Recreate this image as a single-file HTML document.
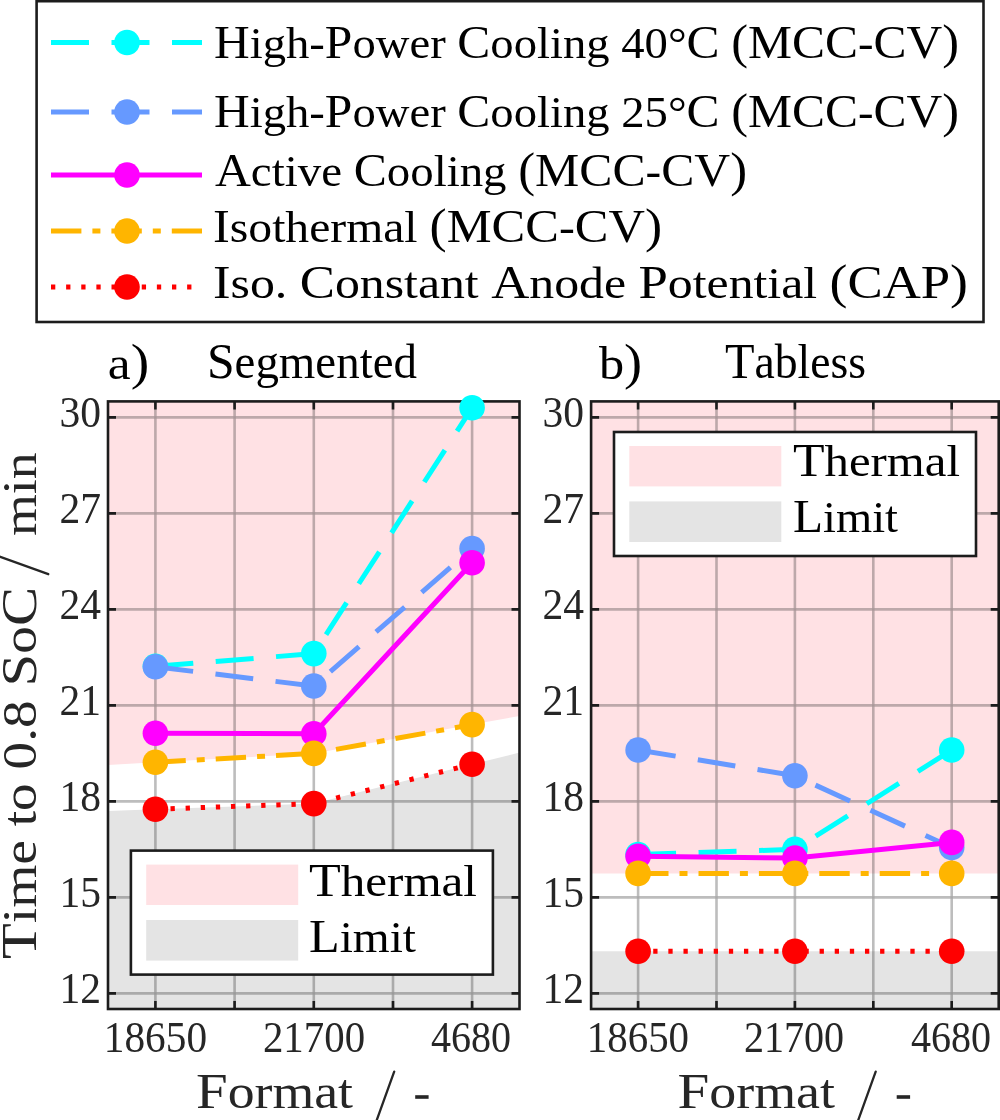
<!DOCTYPE html><html><head><meta charset="utf-8"><style>html,body{margin:0;padding:0;background:#fff;overflow:hidden;}svg{display:block;will-change:transform;}text{font-family:'Liberation Serif', serif;}</style></head><body>
<svg width="1000" height="1120" viewBox="0 0 1000 1120">
<defs><clipPath id="clipa"><rect x="108.0" y="401.4" width="411.5" height="607.6"/></clipPath></defs>
<rect x="108.0" y="401.4" width="411.5" height="607.6" fill="#fff"/>
<polygon clip-path="url(#clipa)" fill="#FFE1E4" points="108.0,401.4 519.5,401.4 519.5,715.98 472.1,724.6 313.8,753.4 155.4,762.3 108.0,764.96"/>
<polygon clip-path="url(#clipa)" fill="#E4E4E4" points="108.0,1009.0 519.5,1009.0 519.5,752.53 472.1,764.3 313.8,803.6 155.4,809.2 108.0,810.88"/>
<path d="M155.4 401.4V1009.0M234.6 401.4V1009.0M313.8 401.4V1009.0M393.0 401.4V1009.0M472.1 401.4V1009.0M108.0 417.4H519.5M108.0 513.4H519.5M108.0 609.4H519.5M108.0 705.4H519.5M108.0 801.4H519.5M108.0 897.4H519.5M108.0 993.4H519.5" stroke="rgba(38,38,38,0.30)" stroke-width="2.6" fill="none"/>
<rect x="154.1" y="416.09999999999997" width="2.6" height="2.6" fill="rgba(38,38,38,0.12)"/><rect x="154.1" y="512.1" width="2.6" height="2.6" fill="rgba(38,38,38,0.12)"/><rect x="154.1" y="608.1" width="2.6" height="2.6" fill="rgba(38,38,38,0.12)"/><rect x="154.1" y="704.1" width="2.6" height="2.6" fill="rgba(38,38,38,0.12)"/><rect x="154.1" y="800.1" width="2.6" height="2.6" fill="rgba(38,38,38,0.12)"/><rect x="154.1" y="896.1" width="2.6" height="2.6" fill="rgba(38,38,38,0.12)"/><rect x="154.1" y="992.1" width="2.6" height="2.6" fill="rgba(38,38,38,0.12)"/><rect x="233.29999999999998" y="416.09999999999997" width="2.6" height="2.6" fill="rgba(38,38,38,0.12)"/><rect x="233.29999999999998" y="512.1" width="2.6" height="2.6" fill="rgba(38,38,38,0.12)"/><rect x="233.29999999999998" y="608.1" width="2.6" height="2.6" fill="rgba(38,38,38,0.12)"/><rect x="233.29999999999998" y="704.1" width="2.6" height="2.6" fill="rgba(38,38,38,0.12)"/><rect x="233.29999999999998" y="800.1" width="2.6" height="2.6" fill="rgba(38,38,38,0.12)"/><rect x="233.29999999999998" y="896.1" width="2.6" height="2.6" fill="rgba(38,38,38,0.12)"/><rect x="233.29999999999998" y="992.1" width="2.6" height="2.6" fill="rgba(38,38,38,0.12)"/><rect x="312.5" y="416.09999999999997" width="2.6" height="2.6" fill="rgba(38,38,38,0.12)"/><rect x="312.5" y="512.1" width="2.6" height="2.6" fill="rgba(38,38,38,0.12)"/><rect x="312.5" y="608.1" width="2.6" height="2.6" fill="rgba(38,38,38,0.12)"/><rect x="312.5" y="704.1" width="2.6" height="2.6" fill="rgba(38,38,38,0.12)"/><rect x="312.5" y="800.1" width="2.6" height="2.6" fill="rgba(38,38,38,0.12)"/><rect x="312.5" y="896.1" width="2.6" height="2.6" fill="rgba(38,38,38,0.12)"/><rect x="312.5" y="992.1" width="2.6" height="2.6" fill="rgba(38,38,38,0.12)"/><rect x="391.7" y="416.09999999999997" width="2.6" height="2.6" fill="rgba(38,38,38,0.12)"/><rect x="391.7" y="512.1" width="2.6" height="2.6" fill="rgba(38,38,38,0.12)"/><rect x="391.7" y="608.1" width="2.6" height="2.6" fill="rgba(38,38,38,0.12)"/><rect x="391.7" y="704.1" width="2.6" height="2.6" fill="rgba(38,38,38,0.12)"/><rect x="391.7" y="800.1" width="2.6" height="2.6" fill="rgba(38,38,38,0.12)"/><rect x="391.7" y="896.1" width="2.6" height="2.6" fill="rgba(38,38,38,0.12)"/><rect x="391.7" y="992.1" width="2.6" height="2.6" fill="rgba(38,38,38,0.12)"/><rect x="470.8" y="416.09999999999997" width="2.6" height="2.6" fill="rgba(38,38,38,0.12)"/><rect x="470.8" y="512.1" width="2.6" height="2.6" fill="rgba(38,38,38,0.12)"/><rect x="470.8" y="608.1" width="2.6" height="2.6" fill="rgba(38,38,38,0.12)"/><rect x="470.8" y="704.1" width="2.6" height="2.6" fill="rgba(38,38,38,0.12)"/><rect x="470.8" y="800.1" width="2.6" height="2.6" fill="rgba(38,38,38,0.12)"/><rect x="470.8" y="896.1" width="2.6" height="2.6" fill="rgba(38,38,38,0.12)"/><rect x="470.8" y="992.1" width="2.6" height="2.6" fill="rgba(38,38,38,0.12)"/>
<path d="M155.4 401.4v8M155.4 1009.0v-8M234.6 401.4v8M234.6 1009.0v-8M313.8 401.4v8M313.8 1009.0v-8M393.0 401.4v8M393.0 1009.0v-8M472.1 401.4v8M472.1 1009.0v-8M108.0 417.4h8M519.5 417.4h-8M108.0 513.4h8M519.5 513.4h-8M108.0 609.4h8M519.5 609.4h-8M108.0 705.4h8M519.5 705.4h-8M108.0 801.4h8M519.5 801.4h-8M108.0 897.4h8M519.5 897.4h-8M108.0 993.4h8M519.5 993.4h-8" stroke="#1c1c1c" stroke-width="2.6" fill="none"/>
<rect x="108.0" y="401.4" width="411.5" height="607.6" fill="none" stroke="#1c1c1c" stroke-width="2.6"/>
<polyline points="155.4,666.3 313.8,653.6 472.1,407.8" fill="none" stroke="#00FFFF" stroke-width="5" stroke-dasharray="38 22.5"/>
<circle cx="155.4" cy="666.3" r="12.8" fill="#00FFFF"/>
<circle cx="313.8" cy="653.6" r="12.8" fill="#00FFFF"/>
<circle cx="472.1" cy="407.8" r="12.8" fill="#00FFFF"/>
<polyline points="155.4,666.8 313.8,686.0 472.1,548.5" fill="none" stroke="#6699FF" stroke-width="5" stroke-dasharray="38 22.5"/>
<circle cx="155.4" cy="666.8" r="12.8" fill="#6699FF"/>
<circle cx="313.8" cy="686.0" r="12.8" fill="#6699FF"/>
<circle cx="472.1" cy="548.5" r="12.8" fill="#6699FF"/>
<polyline points="155.4,733.2 313.8,733.8 472.1,562.8" fill="none" stroke="#FF00FF" stroke-width="5"/>
<circle cx="155.4" cy="733.2" r="12.8" fill="#FF00FF"/>
<circle cx="313.8" cy="733.8" r="12.8" fill="#FF00FF"/>
<circle cx="472.1" cy="562.8" r="12.8" fill="#FF00FF"/>
<polyline points="155.4,762.3 313.8,753.4 472.1,724.6" fill="none" stroke="#FFB500" stroke-width="5" stroke-dasharray="30.4 11 8 11"/>
<circle cx="155.4" cy="762.3" r="12.8" fill="#FFB500"/>
<circle cx="313.8" cy="753.4" r="12.8" fill="#FFB500"/>
<circle cx="472.1" cy="724.6" r="12.8" fill="#FFB500"/>
<polyline points="155.4,809.2 313.8,803.6 472.1,764.3" fill="none" stroke="#FF0000" stroke-width="5" stroke-dasharray="4.3 10.825"/>
<circle cx="155.4" cy="809.2" r="12.8" fill="#FF0000"/>
<circle cx="313.8" cy="803.6" r="12.8" fill="#FF0000"/>
<circle cx="472.1" cy="764.3" r="12.8" fill="#FF0000"/>
<defs><clipPath id="clipb"><rect x="591.1" y="401.4" width="407.6" height="607.6"/></clipPath></defs>
<rect x="591.1" y="401.4" width="407.6" height="607.6" fill="#fff"/>
<polygon clip-path="url(#clipb)" fill="#FFE1E4" points="591.1,401.4 998.7,401.4 998.7,873.40 951.7,873.4 794.9,873.4 638.1,873.4 591.1,873.40"/>
<polygon clip-path="url(#clipb)" fill="#E4E4E4" points="591.1,1009.0 998.7,1009.0 998.7,951.20 951.7,951.2 794.9,951.2 638.1,951.2 591.1,951.20"/>
<path d="M638.1 401.4V1009.0M716.5 401.4V1009.0M794.9 401.4V1009.0M873.3 401.4V1009.0M951.7 401.4V1009.0M591.1 417.4H998.7M591.1 513.4H998.7M591.1 609.4H998.7M591.1 705.4H998.7M591.1 801.4H998.7M591.1 897.4H998.7M591.1 993.4H998.7" stroke="rgba(38,38,38,0.30)" stroke-width="2.6" fill="none"/>
<rect x="636.8000000000001" y="416.09999999999997" width="2.6" height="2.6" fill="rgba(38,38,38,0.12)"/><rect x="636.8000000000001" y="512.1" width="2.6" height="2.6" fill="rgba(38,38,38,0.12)"/><rect x="636.8000000000001" y="608.1" width="2.6" height="2.6" fill="rgba(38,38,38,0.12)"/><rect x="636.8000000000001" y="704.1" width="2.6" height="2.6" fill="rgba(38,38,38,0.12)"/><rect x="636.8000000000001" y="800.1" width="2.6" height="2.6" fill="rgba(38,38,38,0.12)"/><rect x="636.8000000000001" y="896.1" width="2.6" height="2.6" fill="rgba(38,38,38,0.12)"/><rect x="636.8000000000001" y="992.1" width="2.6" height="2.6" fill="rgba(38,38,38,0.12)"/><rect x="715.2" y="416.09999999999997" width="2.6" height="2.6" fill="rgba(38,38,38,0.12)"/><rect x="715.2" y="512.1" width="2.6" height="2.6" fill="rgba(38,38,38,0.12)"/><rect x="715.2" y="608.1" width="2.6" height="2.6" fill="rgba(38,38,38,0.12)"/><rect x="715.2" y="704.1" width="2.6" height="2.6" fill="rgba(38,38,38,0.12)"/><rect x="715.2" y="800.1" width="2.6" height="2.6" fill="rgba(38,38,38,0.12)"/><rect x="715.2" y="896.1" width="2.6" height="2.6" fill="rgba(38,38,38,0.12)"/><rect x="715.2" y="992.1" width="2.6" height="2.6" fill="rgba(38,38,38,0.12)"/><rect x="793.6" y="416.09999999999997" width="2.6" height="2.6" fill="rgba(38,38,38,0.12)"/><rect x="793.6" y="512.1" width="2.6" height="2.6" fill="rgba(38,38,38,0.12)"/><rect x="793.6" y="608.1" width="2.6" height="2.6" fill="rgba(38,38,38,0.12)"/><rect x="793.6" y="704.1" width="2.6" height="2.6" fill="rgba(38,38,38,0.12)"/><rect x="793.6" y="800.1" width="2.6" height="2.6" fill="rgba(38,38,38,0.12)"/><rect x="793.6" y="896.1" width="2.6" height="2.6" fill="rgba(38,38,38,0.12)"/><rect x="793.6" y="992.1" width="2.6" height="2.6" fill="rgba(38,38,38,0.12)"/><rect x="872.0" y="416.09999999999997" width="2.6" height="2.6" fill="rgba(38,38,38,0.12)"/><rect x="872.0" y="512.1" width="2.6" height="2.6" fill="rgba(38,38,38,0.12)"/><rect x="872.0" y="608.1" width="2.6" height="2.6" fill="rgba(38,38,38,0.12)"/><rect x="872.0" y="704.1" width="2.6" height="2.6" fill="rgba(38,38,38,0.12)"/><rect x="872.0" y="800.1" width="2.6" height="2.6" fill="rgba(38,38,38,0.12)"/><rect x="872.0" y="896.1" width="2.6" height="2.6" fill="rgba(38,38,38,0.12)"/><rect x="872.0" y="992.1" width="2.6" height="2.6" fill="rgba(38,38,38,0.12)"/><rect x="950.4000000000001" y="416.09999999999997" width="2.6" height="2.6" fill="rgba(38,38,38,0.12)"/><rect x="950.4000000000001" y="512.1" width="2.6" height="2.6" fill="rgba(38,38,38,0.12)"/><rect x="950.4000000000001" y="608.1" width="2.6" height="2.6" fill="rgba(38,38,38,0.12)"/><rect x="950.4000000000001" y="704.1" width="2.6" height="2.6" fill="rgba(38,38,38,0.12)"/><rect x="950.4000000000001" y="800.1" width="2.6" height="2.6" fill="rgba(38,38,38,0.12)"/><rect x="950.4000000000001" y="896.1" width="2.6" height="2.6" fill="rgba(38,38,38,0.12)"/><rect x="950.4000000000001" y="992.1" width="2.6" height="2.6" fill="rgba(38,38,38,0.12)"/>
<path d="M638.1 401.4v8M638.1 1009.0v-8M716.5 401.4v8M716.5 1009.0v-8M794.9 401.4v8M794.9 1009.0v-8M873.3 401.4v8M873.3 1009.0v-8M951.7 401.4v8M951.7 1009.0v-8M591.1 417.4h8M998.7 417.4h-8M591.1 513.4h8M998.7 513.4h-8M591.1 609.4h8M998.7 609.4h-8M591.1 705.4h8M998.7 705.4h-8M591.1 801.4h8M998.7 801.4h-8M591.1 897.4h8M998.7 897.4h-8M591.1 993.4h8M998.7 993.4h-8" stroke="#1c1c1c" stroke-width="2.6" fill="none"/>
<rect x="591.1" y="401.4" width="407.6" height="607.6" fill="none" stroke="#1c1c1c" stroke-width="2.6"/>
<polyline points="638.1,854.5 794.9,849.3 951.7,750.0" fill="none" stroke="#00FFFF" stroke-width="5" stroke-dasharray="38 22.5"/>
<circle cx="638.1" cy="854.5" r="12.8" fill="#00FFFF"/>
<circle cx="794.9" cy="849.3" r="12.8" fill="#00FFFF"/>
<circle cx="951.7" cy="750.0" r="12.8" fill="#00FFFF"/>
<polyline points="638.1,750.0 794.9,775.7 951.7,847.5" fill="none" stroke="#6699FF" stroke-width="5" stroke-dasharray="38 22.5"/>
<circle cx="638.1" cy="750.0" r="12.8" fill="#6699FF"/>
<circle cx="794.9" cy="775.7" r="12.8" fill="#6699FF"/>
<circle cx="951.7" cy="847.5" r="12.8" fill="#6699FF"/>
<polyline points="638.1,856.3 794.9,858.0 951.7,842.4" fill="none" stroke="#FF00FF" stroke-width="5"/>
<circle cx="638.1" cy="856.3" r="12.8" fill="#FF00FF"/>
<circle cx="794.9" cy="858.0" r="12.8" fill="#FF00FF"/>
<circle cx="951.7" cy="842.4" r="12.8" fill="#FF00FF"/>
<polyline points="638.1,873.4 794.9,873.4 951.7,873.4" fill="none" stroke="#FFB500" stroke-width="5" stroke-dasharray="30.4 11 8 11"/>
<circle cx="638.1" cy="873.4" r="12.8" fill="#FFB500"/>
<circle cx="794.9" cy="873.4" r="12.8" fill="#FFB500"/>
<circle cx="951.7" cy="873.4" r="12.8" fill="#FFB500"/>
<polyline points="638.1,951.2 794.9,951.2 951.7,951.2" fill="none" stroke="#FF0000" stroke-width="5" stroke-dasharray="4.3 10.825"/>
<circle cx="638.1" cy="951.2" r="12.8" fill="#FF0000"/>
<circle cx="794.9" cy="951.2" r="12.8" fill="#FF0000"/>
<circle cx="951.7" cy="951.2" r="12.8" fill="#FF0000"/>
<rect x="130.9" y="850.6" width="362" height="124" fill="#fff" stroke="#1c1c1c" stroke-width="2.6"/>
<rect x="146.20000000000002" y="864.6" width="152" height="40.4" fill="#FFE1E4"/>
<rect x="146.20000000000002" y="920.0" width="152" height="40.6" fill="#E4E4E4"/>
<rect x="614" y="432" width="362" height="124" fill="#fff" stroke="#1c1c1c" stroke-width="2.6"/>
<rect x="629.3" y="446" width="152" height="40.4" fill="#FFE1E4"/>
<rect x="629.3" y="501.4" width="152" height="40.6" fill="#E4E4E4"/>
<rect x="36.6" y="1.2" width="946.9" height="320.8" fill="#fff" stroke="#1c1c1c" stroke-width="2.6"/>
<line x1="51" y1="42.5" x2="202" y2="42.5" stroke="#00FFFF" stroke-width="5" stroke-dasharray="38 22.5"/>
<circle cx="127" cy="42.5" r="12.8" fill="#00FFFF"/>
<line x1="51" y1="112" x2="202" y2="112" stroke="#6699FF" stroke-width="5" stroke-dasharray="38 22.5"/>
<circle cx="127" cy="112" r="12.8" fill="#6699FF"/>
<line x1="51" y1="175" x2="202" y2="175" stroke="#FF00FF" stroke-width="5"/>
<circle cx="127" cy="175" r="12.8" fill="#FF00FF"/>
<line x1="51" y1="231" x2="202" y2="231" stroke="#FFB500" stroke-width="5" stroke-dasharray="30.4 11 8 11"/>
<circle cx="127" cy="231" r="12.8" fill="#FFB500"/>
<line x1="51" y1="287" x2="202" y2="287" stroke="#FF0000" stroke-width="5" stroke-dasharray="4.3 10.825"/>
<circle cx="127" cy="287" r="12.8" fill="#FF0000"/>
<text x="214.00" y="57.6" font-size="44" fill="#000" textLength="745.02" lengthAdjust="spacingAndGlyphs"><tspan font-size="46.64">H</tspan>igh-<tspan font-size="46.64">P</tspan>ower <tspan font-size="46.64">C</tspan>ooling 40°<tspan font-size="46.64">C</tspan> <tspan font-size="47.52">(</tspan><tspan font-size="46.64">M</tspan><tspan font-size="46.64">C</tspan><tspan font-size="46.64">C</tspan>-<tspan font-size="46.64">C</tspan><tspan font-size="46.64">V</tspan><tspan font-size="47.52">)</tspan></text>
<text x="214.00" y="126.6" font-size="44" fill="#000" textLength="745.02" lengthAdjust="spacingAndGlyphs"><tspan font-size="46.64">H</tspan>igh-<tspan font-size="46.64">P</tspan>ower <tspan font-size="46.64">C</tspan>ooling 25°<tspan font-size="46.64">C</tspan> <tspan font-size="47.52">(</tspan><tspan font-size="46.64">M</tspan><tspan font-size="46.64">C</tspan><tspan font-size="46.64">C</tspan>-<tspan font-size="46.64">C</tspan><tspan font-size="46.64">V</tspan><tspan font-size="47.52">)</tspan></text>
<text x="215.00" y="185.8" font-size="44" fill="#000" textLength="532.02" lengthAdjust="spacingAndGlyphs"><tspan font-size="46.64">A</tspan>ctive <tspan font-size="46.64">C</tspan>ooling <tspan font-size="47.52">(</tspan><tspan font-size="46.64">M</tspan><tspan font-size="46.64">C</tspan><tspan font-size="46.64">C</tspan>-<tspan font-size="46.64">C</tspan><tspan font-size="46.64">V</tspan><tspan font-size="47.52">)</tspan></text>
<text x="212.98" y="242.2" font-size="44" fill="#000" textLength="449.05" lengthAdjust="spacingAndGlyphs"><tspan font-size="46.64">I</tspan>sothermal <tspan font-size="47.52">(</tspan><tspan font-size="46.64">M</tspan><tspan font-size="46.64">C</tspan><tspan font-size="46.64">C</tspan>-<tspan font-size="46.64">C</tspan><tspan font-size="46.64">V</tspan><tspan font-size="47.52">)</tspan></text>
<text x="212.99" y="297.7" font-size="44" fill="#000" textLength="755.03" lengthAdjust="spacingAndGlyphs"><tspan font-size="46.64">I</tspan>so. <tspan font-size="46.64">C</tspan>onstant <tspan font-size="46.64">A</tspan>node <tspan font-size="46.64">P</tspan>otential <tspan font-size="47.52">(</tspan><tspan font-size="46.64">C</tspan><tspan font-size="46.64">A</tspan><tspan font-size="46.64">P</tspan><tspan font-size="47.52">)</tspan></text>
<text x="107.81" y="379" font-size="47" fill="#000" textLength="41.39" lengthAdjust="spacingAndGlyphs">a<tspan font-size="50.76">)</tspan></text>
<text x="206.92" y="378.2" font-size="48" fill="#000" textLength="210.09" lengthAdjust="spacingAndGlyphs"><tspan font-size="50.88">S</tspan>egmented</text>
<text x="598.96" y="379" font-size="47" fill="#000" textLength="43.20" lengthAdjust="spacingAndGlyphs">b<tspan font-size="50.76">)</tspan></text>
<text x="724.98" y="378.2" font-size="48" fill="#000" textLength="141.05" lengthAdjust="spacingAndGlyphs"><tspan font-size="50.88">T</tspan>abless</text>
<text x="103.79" y="1052" font-size="44" fill="#262626" textLength="103.28" lengthAdjust="spacingAndGlyphs">18650</text>
<text x="262.96" y="1052" font-size="44" fill="#262626" textLength="102.10" lengthAdjust="spacingAndGlyphs">21700</text>
<text x="430.95" y="1052" font-size="44" fill="#262626" textLength="80.12" lengthAdjust="spacingAndGlyphs">4680</text>
<text x="586.79" y="1052" font-size="44" fill="#262626" textLength="102.30" lengthAdjust="spacingAndGlyphs">18650</text>
<text x="743.92" y="1052" font-size="44" fill="#262626" textLength="100.14" lengthAdjust="spacingAndGlyphs">21700</text>
<text x="910.96" y="1052" font-size="44" fill="#262626" textLength="80.10" lengthAdjust="spacingAndGlyphs">4680</text>
<text x="195.98" y="1107.5" font-size="48" fill="#262626" textLength="157.03" lengthAdjust="spacingAndGlyphs"><tspan font-size="50.88">F</tspan>ormat</text>
<text x="677.48" y="1107.5" font-size="48" fill="#262626" textLength="157.54" lengthAdjust="spacingAndGlyphs"><tspan font-size="50.88">F</tspan>ormat</text>
<text x="308.99" y="896" font-size="44" fill="#000" textLength="168.02" lengthAdjust="spacingAndGlyphs"><tspan font-size="46.64">T</tspan>hermal</text>
<text x="308.99" y="952" font-size="44" fill="#000" textLength="107.01" lengthAdjust="spacingAndGlyphs"><tspan font-size="46.64">L</tspan>imit</text>
<text x="792.99" y="476" font-size="44" fill="#000" textLength="167.03" lengthAdjust="spacingAndGlyphs"><tspan font-size="46.64">T</tspan>hermal</text>
<text x="792.99" y="532" font-size="44" fill="#000" textLength="105.01" lengthAdjust="spacingAndGlyphs"><tspan font-size="46.64">L</tspan>imit</text>
<text x="-959.02" y="0" font-size="48" fill="#262626" transform="translate(36.2,0) rotate(-90)" textLength="372.06" lengthAdjust="spacingAndGlyphs"><tspan font-size="50.88">T</tspan>ime to 0.8 <tspan font-size="50.88">S</tspan>o<tspan font-size="50.88">C</tspan></text>
<text x="-536.03" y="0" font-size="48" fill="#262626" transform="translate(36.2,0) rotate(-90)" textLength="83.57" lengthAdjust="spacingAndGlyphs">min</text>
<text x="0" y="0" font-size="44" fill="#262626" text-anchor="end" transform="translate(100.94,427.29999999999995) scale(0.9447,1)">30</text>
<text x="0" y="0" font-size="44" fill="#262626" text-anchor="end" transform="translate(100.94,523.3) scale(0.9447,1)">27</text>
<text x="0" y="0" font-size="44" fill="#262626" text-anchor="end" transform="translate(100.94,619.3) scale(0.9447,1)">24</text>
<text x="0" y="0" font-size="44" fill="#262626" text-anchor="end" transform="translate(100.94,715.3) scale(0.9447,1)">21</text>
<text x="0" y="0" font-size="44" fill="#262626" text-anchor="end" transform="translate(100.94,811.3) scale(0.9447,1)">18</text>
<text x="0" y="0" font-size="44" fill="#262626" text-anchor="end" transform="translate(100.94,907.3) scale(0.9447,1)">15</text>
<text x="0" y="0" font-size="44" fill="#262626" text-anchor="end" transform="translate(100.94,1003.3) scale(0.9447,1)">12</text>
<text x="0" y="0" font-size="44" fill="#262626" text-anchor="end" transform="translate(584.04,427.29999999999995) scale(0.9447,1)">30</text>
<text x="0" y="0" font-size="44" fill="#262626" text-anchor="end" transform="translate(584.04,523.3) scale(0.9447,1)">27</text>
<text x="0" y="0" font-size="44" fill="#262626" text-anchor="end" transform="translate(584.04,619.3) scale(0.9447,1)">24</text>
<text x="0" y="0" font-size="44" fill="#262626" text-anchor="end" transform="translate(584.04,715.3) scale(0.9447,1)">21</text>
<text x="0" y="0" font-size="44" fill="#262626" text-anchor="end" transform="translate(584.04,811.3) scale(0.9447,1)">18</text>
<text x="0" y="0" font-size="44" fill="#262626" text-anchor="end" transform="translate(584.04,907.3) scale(0.9447,1)">15</text>
<text x="0" y="0" font-size="44" fill="#262626" text-anchor="end" transform="translate(584.04,1003.3) scale(0.9447,1)">12</text>
<line x1="394.2" y1="1071.6" x2="376.6" y2="1120.5" stroke="#262626" stroke-width="2.3" stroke-linecap="round"/>
<rect x="415.2" y="1095.2" width="13.4" height="3.6" fill="#262626"/>
<line x1="875.7" y1="1071.6" x2="858.1" y2="1120.5" stroke="#262626" stroke-width="2.3" stroke-linecap="round"/>
<rect x="896.7" y="1095.2" width="13.4" height="3.6" fill="#262626"/>
<line x1="0.3" y1="556.8" x2="48.3" y2="574.2" stroke="#262626" stroke-width="2.3" stroke-linecap="round"/>
</svg></body></html>
